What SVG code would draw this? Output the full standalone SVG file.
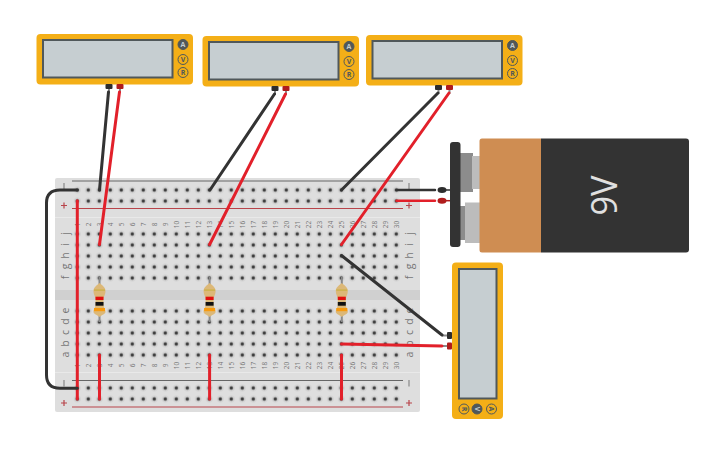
<svg xmlns="http://www.w3.org/2000/svg" width="725" height="453" viewBox="0 0 725 453">
<style>
text{font-family:"Open Sans","Liberation Sans",sans-serif}
.n{font-size:6.5px;fill:#777;text-anchor:middle}
.l{font-size:10.5px;fill:#777;text-anchor:middle}
.case{fill:#f4af17}
.scr{fill:#c6ced1;stroke:#50585a;stroke-width:2}
.btn{fill:none;stroke:#50585a;stroke-width:1}
.on{fill:#50585a;stroke:#50585a;stroke-width:1}
.bt{font-size:7px;font-weight:700;fill:#50585a;text-anchor:middle}
.bton{font-size:7px;font-weight:700;fill:#c6ced1;text-anchor:middle}
.tb{fill:#2d2d2d}.tr{fill:#b01c1c}
.k{stroke:#333;stroke-width:3;fill:none;stroke-linecap:round}
.r{stroke:#e2202a;stroke-width:3;fill:none;stroke-linecap:round}
.lead{stroke:#8a8a8a;stroke-width:2}
.stub{stroke:#8a8a8a;stroke-width:2;fill:none}
.body{fill:#dcb878}
</style>
<defs>
<pattern id="holes" x="71.8" y="184.5" width="11" height="11" patternUnits="userSpaceOnUse">
<circle cx="5.5" cy="5.5" r="3.3" fill="#cecece"/><circle cx="5.5" cy="5.5" r="1.7" fill="#3a3a3a"/>
</pattern>
<g id="res">
<line class="lead" x1="0" y1="277" x2="0" y2="322"/>
<path class="body" d="M0 283C2 285 6 287 6 291C6 295 4 296 4 300V304C4 308 6 309 6 312C6 314 2 315 0 317C-2 315-6 314-6 312C-6 309-4 308-4 304V300C-4 296-6 295-6 291C-6 287-2 285 0 283Z"/>
<rect x="-5.5" y="289.5" width="11" height="1.2" fill="#c9b040"/>
<rect x="-4" y="296.7" width="8" height="3.3" fill="#e01010"/>
<rect x="-4" y="302" width="8" height="3.7" fill="#111"/>
<rect x="-5.5" y="308" width="11" height="3.2" fill="#f79a0e"/>
</g>
</defs>
<g id="breadboard">
<rect x="55" y="178" width="365" height="234" rx="2" fill="#dedede"/>
<rect x="55" y="290" width="365" height="10" fill="#d0d0d0"/>
<rect x="55" y="217" width="365" height="1" fill="#e9e9e9"/>
<rect x="55" y="372" width="365" height="1" fill="#e9e9e9"/>
<rect x="71.8" y="184.5" width="330" height="22" fill="url(#holes)"/>
<rect x="71.8" y="228" width="330" height="55" fill="url(#holes)"/>
<rect x="71.8" y="305" width="330" height="55" fill="url(#holes)"/>
<rect x="71.8" y="382.6" width="330" height="22" fill="url(#holes)"/>
<g stroke="#666" stroke-width="1.2"><line x1="72" y1="181" x2="403" y2="181"/><line x1="72" y1="380.5" x2="403" y2="380.5"/></g>
<g stroke="#888" stroke-width="1.2"><line x1="64" y1="183" x2="64" y2="189.500"/><line x1="409" y1="183" x2="409" y2="189.500"/><line x1="64" y1="380" x2="64" y2="386.500"/><line x1="409" y1="380" x2="409" y2="386.500"/></g>
<g stroke="#b8444a" stroke-width="1.200"><line x1="72" y1="208.500" x2="403" y2="208.500"/><line x1="72" y1="407" x2="403" y2="407"/>
<path d="M61 205.500H67M64 202.500V208.500M406 205.500H412M409 202.500V208.500M61 403H67M64 400V406M406 403H412M409 400V406" fill="none"/></g>
<g>
<text class="n" transform="translate(79.5,224.500) rotate(-90)">1</text><text class="n" transform="translate(90.5,224.500) rotate(-90)">2</text><text class="n" transform="translate(101.5,224.500) rotate(-90)">3</text><text class="n" transform="translate(112.5,224.500) rotate(-90)">4</text><text class="n" transform="translate(123.5,224.500) rotate(-90)">5</text><text class="n" transform="translate(134.5,224.500) rotate(-90)">6</text><text class="n" transform="translate(145.5,224.500) rotate(-90)">7</text><text class="n" transform="translate(156.5,224.500) rotate(-90)">8</text><text class="n" transform="translate(167.5,224.500) rotate(-90)">9</text><text class="n" transform="translate(178.5,224.500) rotate(-90)">10</text><text class="n" transform="translate(189.5,224.500) rotate(-90)">11</text><text class="n" transform="translate(200.5,224.500) rotate(-90)">12</text><text class="n" transform="translate(211.5,224.500) rotate(-90)">13</text><text class="n" transform="translate(222.5,224.500) rotate(-90)">14</text><text class="n" transform="translate(233.5,224.500) rotate(-90)">15</text><text class="n" transform="translate(244.5,224.500) rotate(-90)">16</text><text class="n" transform="translate(255.5,224.500) rotate(-90)">17</text><text class="n" transform="translate(266.5,224.500) rotate(-90)">18</text><text class="n" transform="translate(277.5,224.500) rotate(-90)">19</text><text class="n" transform="translate(288.5,224.500) rotate(-90)">20</text><text class="n" transform="translate(299.5,224.500) rotate(-90)">21</text><text class="n" transform="translate(310.5,224.500) rotate(-90)">22</text><text class="n" transform="translate(321.5,224.500) rotate(-90)">23</text><text class="n" transform="translate(332.5,224.500) rotate(-90)">24</text><text class="n" transform="translate(343.5,224.500) rotate(-90)">25</text><text class="n" transform="translate(354.5,224.500) rotate(-90)">26</text><text class="n" transform="translate(365.5,224.500) rotate(-90)">27</text><text class="n" transform="translate(376.5,224.500) rotate(-90)">28</text><text class="n" transform="translate(387.5,224.500) rotate(-90)">29</text><text class="n" transform="translate(398.5,224.500) rotate(-90)">30</text>
<text class="n" transform="translate(79.5,365.500) rotate(-90)">1</text><text class="n" transform="translate(90.5,365.500) rotate(-90)">2</text><text class="n" transform="translate(101.5,365.500) rotate(-90)">3</text><text class="n" transform="translate(112.5,365.500) rotate(-90)">4</text><text class="n" transform="translate(123.5,365.500) rotate(-90)">5</text><text class="n" transform="translate(134.5,365.500) rotate(-90)">6</text><text class="n" transform="translate(145.5,365.500) rotate(-90)">7</text><text class="n" transform="translate(156.5,365.500) rotate(-90)">8</text><text class="n" transform="translate(167.5,365.500) rotate(-90)">9</text><text class="n" transform="translate(178.5,365.500) rotate(-90)">10</text><text class="n" transform="translate(189.5,365.500) rotate(-90)">11</text><text class="n" transform="translate(200.5,365.500) rotate(-90)">12</text><text class="n" transform="translate(211.5,365.500) rotate(-90)">13</text><text class="n" transform="translate(222.5,365.500) rotate(-90)">14</text><text class="n" transform="translate(233.5,365.500) rotate(-90)">15</text><text class="n" transform="translate(244.5,365.500) rotate(-90)">16</text><text class="n" transform="translate(255.5,365.500) rotate(-90)">17</text><text class="n" transform="translate(266.5,365.500) rotate(-90)">18</text><text class="n" transform="translate(277.5,365.500) rotate(-90)">19</text><text class="n" transform="translate(288.5,365.500) rotate(-90)">20</text><text class="n" transform="translate(299.5,365.500) rotate(-90)">21</text><text class="n" transform="translate(310.5,365.500) rotate(-90)">22</text><text class="n" transform="translate(321.5,365.500) rotate(-90)">23</text><text class="n" transform="translate(332.5,365.500) rotate(-90)">24</text><text class="n" transform="translate(343.5,365.500) rotate(-90)">25</text><text class="n" transform="translate(354.5,365.500) rotate(-90)">26</text><text class="n" transform="translate(365.5,365.500) rotate(-90)">27</text><text class="n" transform="translate(376.5,365.500) rotate(-90)">28</text><text class="n" transform="translate(387.5,365.500) rotate(-90)">29</text><text class="n" transform="translate(398.5,365.500) rotate(-90)">30</text>
</g>
<text class="l" transform="translate(69,233.5) rotate(-90)">j</text><text class="l" transform="translate(69,244.5) rotate(-90)">i</text><text class="l" transform="translate(69,255.5) rotate(-90)">h</text><text class="l" transform="translate(69,266.5) rotate(-90)">g</text><text class="l" transform="translate(69,277.5) rotate(-90)">f</text>
<text class="l" transform="translate(69,310.5) rotate(-90)">e</text><text class="l" transform="translate(69,321.5) rotate(-90)">d</text><text class="l" transform="translate(69,332.5) rotate(-90)">c</text><text class="l" transform="translate(69,343.5) rotate(-90)">b</text><text class="l" transform="translate(69,354.5) rotate(-90)">a</text>
<text class="l" transform="translate(413,233.5) rotate(-90)">j</text><text class="l" transform="translate(413,244.5) rotate(-90)">i</text><text class="l" transform="translate(413,255.5) rotate(-90)">h</text><text class="l" transform="translate(413,266.5) rotate(-90)">g</text><text class="l" transform="translate(413,277.5) rotate(-90)">f</text>
<text class="l" transform="translate(413,310.5) rotate(-90)">e</text><text class="l" transform="translate(413,321.5) rotate(-90)">d</text><text class="l" transform="translate(413,332.5) rotate(-90)">c</text><text class="l" transform="translate(413,343.5) rotate(-90)">b</text><text class="l" transform="translate(413,354.5) rotate(-90)">a</text>
</g>
<g id="resistor1"><use href="#res" x="99.5"/></g>
<g id="resistor2"><use href="#res" x="209.6"/></g>
<g id="resistor3"><use href="#res" x="341.8"/></g>
<g id="meter1">
<rect class="case" x="36.5" y="34" width="156.5" height="50.5" rx="4"/>
<rect class="scr" x="43" y="40" width="129.5" height="37.5"/>
<circle class="on" cx="183" cy="44.5" r="5"/><text class="bton" x="183" y="47">A</text>
<circle class="btn" cx="183" cy="59.5" r="5"/><text class="bt" x="183" y="62">V</text>
<circle class="btn" cx="183" cy="72.5" r="5"/><text class="bt" x="183" y="75">R</text>
<path class="stub" d="M109 88V93M120 88V93"/>
<rect class="tb" x="105.500" y="84" width="7" height="5" rx="1"/><rect class="tr" x="116.500" y="84" width="7" height="5" rx="1"/>
</g>
<g id="meter2">
<rect class="case" x="202.5" y="36" width="156.5" height="50.5" rx="4"/>
<rect class="scr" x="209" y="42" width="129.5" height="37.5"/>
<circle class="on" cx="349" cy="46.5" r="5"/><text class="bton" x="349" y="49">A</text>
<circle class="btn" cx="349" cy="61.5" r="5"/><text class="bt" x="349" y="64">V</text>
<circle class="btn" cx="349" cy="74.5" r="5"/><text class="bt" x="349" y="77">R</text>
<path class="stub" d="M275 90V95M286 90V95"/>
<rect class="tb" x="271.500" y="86" width="7" height="5" rx="1"/><rect class="tr" x="282.500" y="86" width="7" height="5" rx="1"/>
</g>
<g id="meter3">
<rect class="case" x="366" y="35" width="156.5" height="50.5" rx="4"/>
<rect class="scr" x="372.5" y="41" width="129.5" height="37.5"/>
<circle class="on" cx="512.5" cy="45.5" r="5"/><text class="bton" x="512.5" y="48">A</text>
<circle class="btn" cx="512.5" cy="60.5" r="5"/><text class="bt" x="512.5" y="63">V</text>
<circle class="btn" cx="512.5" cy="73.5" r="5"/><text class="bt" x="512.5" y="76">R</text>
<path class="stub" d="M438.500 89V94M449.500 89V94"/>
<rect class="tb" x="435" y="85" width="7" height="5" rx="1"/><rect class="tr" x="446" y="85" width="7" height="5" rx="1"/>
</g>
<g id="meter4">
<rect class="case" x="452" y="262.5" width="51" height="156.5" rx="4"/>
<rect class="scr" x="459" y="269" width="37.5" height="129.5"/>
<circle class="btn" cx="464" cy="409" r="5"/><text class="bt" transform="translate(464,409) rotate(90) translate(0,2.5)">R</text>
<circle class="on" cx="477" cy="409" r="5"/><text class="bton" transform="translate(477,409) rotate(90) translate(0,2.5)">V</text>
<circle class="btn" cx="491.5" cy="409" r="5"/><text class="bt" transform="translate(491.5,409) rotate(90) translate(0,2.5)">A</text>
<path class="stub" d="M442 335.500H448M442 346H448"/>
<rect class="tb" x="447" y="332" width="5" height="7" rx="1"/><rect class="tr" x="447" y="342.500" width="5" height="7" rx="1"/>
</g>
<g id="battery">
<rect x="460" y="153" width="13" height="39" fill="#8c8c8c"/>
<rect x="472" y="156" width="8" height="33" fill="#bcbcbc"/>
<rect x="460" y="206" width="6" height="34" fill="#8c8c8c"/>
<rect x="465" y="202.5" width="15" height="40.5" fill="#bcbcbc"/>
<rect x="450" y="142" width="10.5" height="105" rx="3" fill="#333"/>
<path d="M482 138.5H541V252.5H482Q479.5 252.5 479.5 250V141Q479.5 138.5 482 138.5Z" fill="#cf8d52"/>
<path d="M541 138.5H686Q689 138.5 689 141.500V249.500Q689 252.500 686 252.500H541Z" fill="#333"/>
<text transform="translate(616.500,195.500) rotate(-90)" font-size="37" fill="#e0e0e0" text-anchor="middle" textLength="40" lengthAdjust="spacingAndGlyphs">9V</text>
<ellipse cx="442" cy="190" rx="4.500" ry="3" fill="#2d2d2d"/><path d="M445 190H450" stroke="#2d2d2d" stroke-width="1.500"/>
<ellipse cx="442" cy="200.700" rx="4.500" ry="3" fill="#b01c1c"/><path d="M445 200.700H450" stroke="#b01c1c" stroke-width="1.500"/>
</g>
<g id="connectors">
<path class="k" d="M108.500 92L99.500 190"/>
<path class="r" d="M119.500 92L99.500 244.500"/>
<path class="k" d="M274.500 94L210 190"/>
<path class="r" d="M285.500 94L209.600 244.500"/>
<path class="k" d="M438 93L341.500 190"/>
<path class="r" d="M449 93L341.500 244.500"/>
<path class="k" d="M341.500 255.500L442 335"/>
<path class="r" d="M341.500 344L442 346"/>
<path class="r" d="M77.300 200.700V399"/>
<path class="r" d="M99.500 355V399"/>
<path class="r" d="M209.600 355V399"/>
<path class="r" d="M341.500 355V399"/>
<path class="k" d="M77.300 190H60Q46.500 190 46.500 203V375Q46.500 388.300 60 388.300H77.300"/>
<path class="k" d="M396.500 190H435" style="stroke-width:2.500"/>
<path class="r" d="M396.500 200.700H435" style="stroke-width:2.500"/>
</g>
</svg>
